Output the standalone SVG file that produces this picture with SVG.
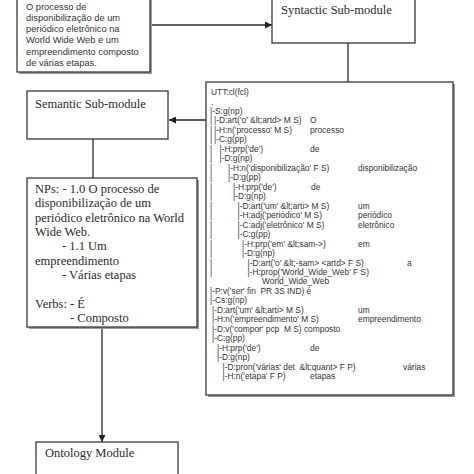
<svg xmlns="http://www.w3.org/2000/svg" width="474" height="474" viewBox="0 0 474 474">
<defs>
<marker id="arr" viewBox="0 0 10 10" refX="10" refY="5" markerWidth="7" markerHeight="7" markerUnits="userSpaceOnUse" orient="auto">
<path d="M0,0 L10,5 L0,10 z" fill="#222"/>
</marker>
<style>
.box{fill:#fff;stroke:#3a3a3a;stroke-width:1.3}
.shadow{fill:#9a9a9a;stroke:none}
.conn{stroke:#2a2a2a;stroke-width:1.3;fill:none}
.serif{font-family:"Liberation Serif","Times New Roman",serif;font-size:12.5px;fill:#2a2a2a}
.sans{font-family:"Liberation Sans",Arial,sans-serif;font-size:9.3px;fill:#333}
.tree{font-family:"Liberation Sans",Arial,sans-serif;font-size:8.4px;fill:#333;white-space:pre}
</style>
</defs>
<rect width="474" height="474" fill="#fff"/>

<g id="connectors">
<line class="conn" x1="150" y1="25" x2="272" y2="25" marker-end="url(#arr)"/>
<line class="conn" x1="348" y1="43" x2="348" y2="82"/>
<line class="conn" x1="206" y1="120" x2="169" y2="120" marker-end="url(#arr)"/>
<line class="conn" x1="93" y1="139" x2="93" y2="178"/>
<line class="conn" x1="102" y1="327" x2="102" y2="442" marker-end="url(#arr)"/>
</g>

<g id="input-text">
<rect class="shadow" x="19" y="-4" width="133" height="78"/>
<rect class="box" x="17" y="-6" width="133" height="78"/>
<text class="sans" x="26" y="9.5">O processo de</text>
<text class="sans" x="26" y="20.8">disponibilização de um</text>
<text class="sans" x="26" y="32.1">periódico eletrônico na</text>
<text class="sans" x="26" y="43.4">World Wide Web e um</text>
<text class="sans" x="26" y="54.7">empreendimento composto</text>
<text class="sans" x="26" y="66">de várias etapas.</text>
</g>

<g id="syntactic">
<rect class="box" x="272" y="-6" width="143" height="49"/>
<text class="serif" x="281" y="14">Syntactic Sub-module</text>
</g>

<g id="semantic">
<rect class="box" x="27" y="91" width="141" height="48"/>
<text class="serif" x="35" y="108">Semantic Sub-module</text>
</g>

<g id="parse-tree">
<rect class="shadow" x="208" y="84" width="247" height="313"/>
<rect class="box" x="206" y="82" width="247" height="313"/>
<g opacity="0.99">
<text class="tree" x="211" y="95">UTT:cl(fcl)</text>
<text class="tree" x="211" y="104.5">.</text>
<text class="tree" x="210" y="113.9">|-S:g(np)</text>
<text class="tree" y="123.4"><tspan x="210">|</tspan><tspan x="214">|-D:art('o' &amp;lt;artd&gt; M S)</tspan><tspan x="310">O</tspan></text>
<text class="tree" y="132.9"><tspan x="210">|</tspan><tspan x="214">|-H:n('processo' M S)</tspan><tspan x="310">processo</tspan></text>
<text class="tree" y="142.4"><tspan x="210">|</tspan><tspan x="214">|-C:g(pp)</tspan></text>
<text class="tree" y="151.8"><tspan x="210">|</tspan><tspan x="219.5">|-H:prp('de')</tspan><tspan x="310">de</tspan></text>
<text class="tree" y="161.3"><tspan x="210">|</tspan><tspan x="219.5">|-D:g(np)</tspan></text>
<text class="tree" y="170.8"><tspan x="210">|</tspan><tspan x="228">|-H:n('disponibilização' F S)</tspan><tspan x="358">disponibilização</tspan></text>
<text class="tree" y="180.2"><tspan x="210">|</tspan><tspan x="228">|-D:g(pp)</tspan></text>
<text class="tree" y="189.7"><tspan x="210">|</tspan><tspan x="233">|-H:prp('de')</tspan><tspan x="311">de</tspan></text>
<text class="tree" y="199.2"><tspan x="210">|</tspan><tspan x="233">|-D:g(np)</tspan></text>
<text class="tree" y="208.7"><tspan x="210">|</tspan><tspan x="237.5">|-D:art('um' &amp;lt;arti&gt; M S)</tspan><tspan x="358">um</tspan></text>
<text class="tree" y="218.1"><tspan x="210">|</tspan><tspan x="237.5">|-H:adj('periódico' M S)</tspan><tspan x="358">periódico</tspan></text>
<text class="tree" y="227.6"><tspan x="210">|</tspan><tspan x="237.5">|-C:adj('eletrônico' M S)</tspan><tspan x="358">eletrônico</tspan></text>
<text class="tree" y="237.1"><tspan x="210">|</tspan><tspan x="237.5">|-C:g(pp)</tspan></text>
<text class="tree" y="246.5"><tspan x="210">|</tspan><tspan x="242">|-H:prp('em' &amp;lt;sam-&gt;)</tspan><tspan x="358">em</tspan></text>
<text class="tree" y="256"><tspan x="210">|</tspan><tspan x="242">|-D:g(np)</tspan></text>
<text class="tree" y="265.5"><tspan x="210">|</tspan><tspan x="247.5">|-D:art('o' &amp;lt;-sam&gt; &lt;artd&gt; F S)</tspan><tspan x="407">a</tspan></text>
<text class="tree" y="274.9"><tspan x="210">|</tspan><tspan x="247.5">|-H:prop('World_Wide_Web' F S)</tspan></text>
<text class="tree" x="262" y="284.4">World_Wide_Web</text>
<text class="tree" x="210" y="293.9">|-P:v('ser' fin  PR 3S IND) é</text>
<text class="tree" x="210" y="303.3">|-Cs:g(np)</text>
<text class="tree" y="312.8"><tspan x="212">|-D:art('um' &amp;lt;arti&gt; M S)</tspan><tspan x="358">um</tspan></text>
<text class="tree" y="322.3"><tspan x="212">|-H:n('empreendimento' M S)</tspan><tspan x="358">empreendimento</tspan></text>
<text class="tree" x="212" y="331.7">|-D:v('compor' pcp  M S) composto</text>
<text class="tree" x="212" y="341.2">|-C:g(pp)</text>
<text class="tree" y="350.7"><tspan x="217">|-H:prp('de')</tspan><tspan x="310">de</tspan></text>
<text class="tree" x="217" y="360.1">|-D:g(np)</text>
<text class="tree" y="369.6"><tspan x="222.5">|-D:pron('várias' det  &amp;lt;quant&gt; F P)</tspan><tspan x="403">várias</tspan></text>
<text class="tree" y="379.1"><tspan x="222.5">|-H:n('etapa' F P)</tspan><tspan x="310">etapas</tspan></text>
</g>
</g>

<g id="semantic-output">
<rect class="shadow" x="29" y="180" width="170" height="149"/>
<rect class="box" x="27" y="178" width="170" height="149"/>
<text class="serif" x="35" y="193">NPs: - 1.0 O processo de</text>
<text class="serif" x="35" y="207.3">disponibilização de um</text>
<text class="serif" x="35" y="221.6">periódico eletrônico na World</text>
<text class="serif" x="35" y="235.9">Wide Web.</text>
<text class="serif" x="62" y="250.2">- 1.1 Um</text>
<text class="serif" x="35" y="264.5">empreendimento</text>
<text class="serif" x="62" y="278.8">- Várias etapas</text>
<text class="serif" x="35" y="308">Verbs: - É</text>
<text class="serif" x="70" y="322.3">- Composto</text>
</g>

<g id="ontology">
<rect class="box" x="36" y="442" width="142" height="40"/>
<text class="serif" x="45" y="457">Ontology Module</text>
</g>
</svg>
